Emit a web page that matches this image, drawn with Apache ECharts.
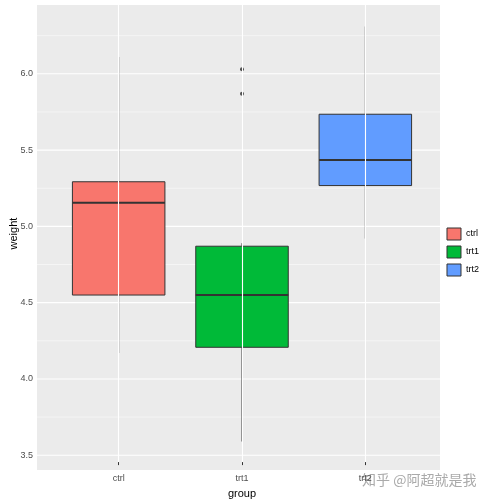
<!DOCTYPE html>
<html><head><meta charset="utf-8">
<script src="https://cdn.jsdelivr.net/npm/echarts@6/dist/echarts.min.js"></script>
<style>html,body{margin:0;background:#fff}#c{width:504px;height:504px}</style>
</head><body><div id="c"></div>
<script>
var groups = ['ctrl', 'trt1', 'trt2'];
var colors = ['#F8766D', '#00BA38', '#619CFF'];
// min, Q1, median, Q3, max (whisker ends)
var ctrlBox = [4.17, 4.55, 5.155, 5.2925, 6.11];
var trt1Box = [3.59, 4.2075, 4.55, 4.87, 4.89];
var trt2Box = [4.92, 5.2675, 5.435, 5.735, 6.31];
var outliers = [['trt1', 5.87], ['trt1', 6.03]];
var majorTicks = [3.5, 4.0, 4.5, 5.0, 5.5, 6.0];
var minorTicks = [3.75, 4.25, 4.75, 5.25, 5.75, 6.25];

var chart = echarts.init(document.getElementById('c'), null);
var boxes = [ctrlBox, trt1Box, trt2Box];
var boxData = boxes.map(function (b, i) { return [i].concat(b); });

function renderBox(params, api) {
    var i = api.value(0);
    var w = api.size([1, 0])[0] * 0.75;
    var lo = api.coord([i, api.value(1)]), q1 = api.coord([i, api.value(2)]);
    var md = api.coord([i, api.value(3)]), q3 = api.coord([i, api.value(4)]);
    var hi = api.coord([i, api.value(5)]);
    var x = lo[0];
    var ln = { stroke: '#333', lineWidth: 1 };
    return {
        type: 'group', children: [
            { type: 'line', shape: { x1: x, y1: hi[1], x2: x, y2: q3[1] }, style: ln },
            { type: 'line', shape: { x1: x, y1: q1[1], x2: x, y2: lo[1] }, style: ln },
            { type: 'rect', shape: { x: x - w / 2, y: q3[1], width: w, height: q1[1] - q3[1] },
              style: { fill: colors[i], stroke: '#333', lineWidth: 1 } },
            { type: 'line', shape: { x1: x - w / 2, y1: md[1], x2: x + w / 2, y2: md[1] },
              style: { stroke: '#333', lineWidth: 2 } }
        ]
    };
}

function renderGrid(params, api) {
    var v = api.value(0), major = api.value(1);
    var cs = params.coordSys;
    var p = api.coord([0, v]);
    var children = [{ type: 'line', shape: { x1: 37, y1: p[1], x2: 440, y2: p[1] },
        style: { stroke: '#fff', lineWidth: major ? 1.1 : 0.5 } }];
    if (major) {
        children.push({ type: 'text', x: 33, y: p[1],
            style: { text: v.toFixed(1), fill: '#4d4d4d', font: '9px Liberation Sans', align: 'right', verticalAlign: 'middle' } });
    }
    return { type: 'group', children: children };
}

var gridData = majorTicks.map(function (v) { return [v, 1]; })
    .concat(minorTicks.map(function (v) { return [v, 0]; }));

var option = {
    animation: false,
    textStyle: { fontFamily: 'Liberation Sans, Arial' },
    grid: { left: 49, right: 77, top: 5, bottom: 34 },
    legend: {
        orient: 'vertical', right: 20, top: 'middle', itemGap: 5,
        itemWidth: 14, itemHeight: 12, icon: 'rect',
        textStyle: { fontSize: 9, color: '#000' },
        data: groups.map(function (g, i) {
            return { name: g, itemStyle: { color: colors[i], borderColor: '#333', borderWidth: 1 } };
        })
    },
    graphic: [
        { type: 'rect', z: -10, shape: { x: 37, y: 5, width: 403, height: 465 }, style: { fill: '#EBEBEB' } },
        { type: 'text', left: 362, top: 473, style: { text: '知乎 @阿超就是我', fill: '#aaa', font: '14px "Noto Sans CJK SC"' } }
    ],
    xAxis: {
        type: 'category', data: groups, boundaryGap: true,
        name: 'group', nameLocation: 'middle', nameGap: 20,
        nameTextStyle: { fontSize: 11, color: '#000' },
        axisLine: { show: false },
        axisTick: { show: true, alignWithLabel: true, length: 3, lineStyle: { color: '#333' } },
        axisLabel: { fontSize: 9, color: '#4d4d4d', margin: 12 },
        splitLine: { show: false }
    },
    yAxis: {
        type: 'value', min: 3.455, max: 6.451,
        name: 'weight', nameLocation: 'middle', nameGap: 38,
        nameTextStyle: { fontSize: 11, color: '#000' },
        axisLine: { show: false }, axisTick: { show: false },
        axisLabel: { show: false }, splitLine: { show: false }
    },
    series: [
        { type: 'custom', z: 1, clip: false, silent: true, renderItem: renderGrid, data: gridData,
          encode: { y: 0 },
          markLine: { silent: true, symbol: 'none', animation: false, label: { show: false },
              lineStyle: { color: '#fff', type: 'solid', width: 1.1 },
              data: groups.map(function (g) { return { xAxis: g }; }) } },
        { type: 'custom', z: 3, renderItem: renderBox, data: boxData, encode: { x: 0, y: [1, 5] } },
        { type: 'scatter', z: 4, data: outliers, symbolSize: 4, itemStyle: { color: '#222' } }
    ].concat(groups.map(function (g, i) {
        return { name: g, type: 'bar', data: [], itemStyle: { color: colors[i] } };
    }))
};
chart.setOption(option);
</script></body></html>
